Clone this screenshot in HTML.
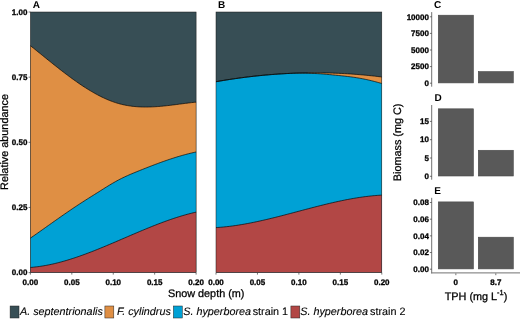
<!DOCTYPE html>
<html><head><meta charset="utf-8"><style>
html,body{margin:0;padding:0;background:#fff;width:520px;height:319px;overflow:hidden}
svg{display:block;will-change:transform;text-rendering:geometricPrecision;font-family:"Liberation Sans",sans-serif}
.tk{font-size:8.0px;font-weight:bold;fill:#000;stroke:#000;stroke-width:0.3px}
.tag{font-size:10px;font-weight:bold;fill:#000}
.ttl{font-size:10.85px;fill:#000;stroke:#000;stroke-width:0.28px}
.leg{font-size:10.8px;fill:#000;stroke:#000;stroke-width:0.12px}
</style></head><body>
<svg width="520" height="319" viewBox="0 0 520 319">
<rect x="30.40" y="12.00" width="165.70" height="260.60" fill="#374E55"/>
<polygon points="30.40,45.70 31.89,46.90 33.39,48.09 34.88,49.29 36.37,50.50 37.86,51.70 39.36,52.91 40.85,54.12 42.34,55.33 43.84,56.54 45.33,57.74 46.82,58.95 48.31,60.15 49.81,61.36 51.30,62.55 52.79,63.75 54.28,64.94 55.78,66.12 57.27,67.30 58.76,68.47 60.26,69.64 61.75,70.80 63.24,71.95 64.73,73.09 66.23,74.22 67.72,75.34 69.21,76.46 70.71,77.56 72.20,78.65 73.69,79.73 75.18,80.79 76.68,81.84 78.17,82.88 79.66,83.91 81.15,84.91 82.65,85.91 84.14,86.88 85.63,87.84 87.13,88.79 88.62,89.71 90.11,90.62 91.60,91.50 93.10,92.37 94.59,93.22 96.08,94.04 97.58,94.85 99.07,95.63 100.56,96.39 102.05,97.13 103.55,97.84 105.04,98.53 106.53,99.19 108.03,99.83 109.52,100.44 111.01,101.02 112.50,101.58 114.00,102.11 115.49,102.61 116.98,103.08 118.47,103.52 119.97,103.93 121.46,104.31 122.95,104.66 124.45,104.99 125.94,105.29 127.43,105.56 128.92,105.81 130.42,106.03 131.91,106.23 133.40,106.40 134.90,106.55 136.39,106.68 137.88,106.79 139.37,106.88 140.87,106.95 142.36,107.00 143.85,107.03 145.35,107.04 146.84,107.04 148.33,107.01 149.82,106.98 151.32,106.93 152.81,106.86 154.30,106.79 155.79,106.70 157.29,106.59 158.78,106.48 160.27,106.36 161.77,106.22 163.26,106.08 164.75,105.93 166.24,105.77 167.74,105.60 169.23,105.43 170.72,105.26 172.22,105.07 173.71,104.89 175.20,104.70 176.69,104.51 178.19,104.32 179.68,104.12 181.17,103.93 182.66,103.73 184.16,103.54 185.65,103.35 187.14,103.16 188.64,102.98 190.13,102.80 191.62,102.62 193.11,102.45 194.61,102.29 196.10,102.13 196.10,272.60 30.40,272.60" fill="#DF8F44"/>
<polygon points="30.40,238.14 31.89,237.10 33.39,236.06 34.88,235.02 36.37,233.97 37.86,232.92 39.36,231.87 40.85,230.82 42.34,229.76 43.84,228.71 45.33,227.65 46.82,226.59 48.31,225.53 49.81,224.48 51.30,223.42 52.79,222.36 54.28,221.31 55.78,220.25 57.27,219.20 58.76,218.15 60.26,217.11 61.75,216.06 63.24,215.02 64.73,213.99 66.23,212.96 67.72,211.93 69.21,210.91 70.71,209.89 72.20,208.88 73.69,207.87 75.18,206.88 76.68,205.88 78.17,204.90 79.66,203.92 81.15,202.95 82.65,201.99 84.14,201.04 85.63,200.08 87.13,199.14 88.62,198.19 90.11,197.25 91.60,196.32 93.10,195.38 94.59,194.44 96.08,193.50 97.58,192.57 99.07,191.63 100.56,190.68 102.05,189.74 103.55,188.80 105.04,187.87 106.53,186.94 108.03,186.02 109.52,185.11 111.01,184.22 112.50,183.34 114.00,182.47 115.49,181.62 116.98,180.80 118.47,179.99 119.97,179.21 121.46,178.46 122.95,177.73 124.45,177.02 125.94,176.32 127.43,175.65 128.92,174.99 130.42,174.35 131.91,173.71 133.40,173.09 134.90,172.47 136.39,171.86 137.88,171.26 139.37,170.65 140.87,170.05 142.36,169.46 143.85,168.86 145.35,168.27 146.84,167.68 148.33,167.10 149.82,166.51 151.32,165.94 152.81,165.37 154.30,164.80 155.79,164.24 157.29,163.68 158.78,163.13 160.27,162.58 161.77,162.04 163.26,161.51 164.75,160.99 166.24,160.47 167.74,159.96 169.23,159.45 170.72,158.96 172.22,158.47 173.71,157.99 175.20,157.52 176.69,157.06 178.19,156.60 179.68,156.16 181.17,155.73 182.66,155.30 184.16,154.89 185.65,154.49 187.14,154.09 188.64,153.71 190.13,153.34 191.62,152.99 193.11,152.64 194.61,152.30 196.10,151.98 196.10,272.60 30.40,272.60" fill="#00A1D5"/>
<polygon points="30.40,267.45 31.89,267.33 33.39,267.19 34.88,267.03 36.37,266.86 37.86,266.68 39.36,266.47 40.85,266.26 42.34,266.02 43.84,265.78 45.33,265.51 46.82,265.24 48.31,264.95 49.81,264.65 51.30,264.33 52.79,264.00 54.28,263.66 55.78,263.30 57.27,262.93 58.76,262.55 60.26,262.16 61.75,261.76 63.24,261.35 64.73,260.92 66.23,260.49 67.72,260.04 69.21,259.58 70.71,259.12 72.20,258.64 73.69,258.16 75.18,257.66 76.68,257.16 78.17,256.65 79.66,256.13 81.15,255.60 82.65,255.07 84.14,254.52 85.63,253.97 87.13,253.42 88.62,252.85 90.11,252.28 91.60,251.71 93.10,251.13 94.59,250.54 96.08,249.95 97.58,249.35 99.07,248.75 100.56,248.14 102.05,247.53 103.55,246.91 105.04,246.29 106.53,245.67 108.03,245.04 109.52,244.41 111.01,243.78 112.50,243.15 114.00,242.51 115.49,241.88 116.98,241.24 118.47,240.60 119.97,239.95 121.46,239.31 122.95,238.67 124.45,238.03 125.94,237.38 127.43,236.74 128.92,236.10 130.42,235.46 131.91,234.82 133.40,234.18 134.90,233.54 136.39,232.90 137.88,232.27 139.37,231.64 140.87,231.01 142.36,230.39 143.85,229.77 145.35,229.15 146.84,228.53 148.33,227.92 149.82,227.32 151.32,226.71 152.81,226.12 154.30,225.52 155.79,224.94 157.29,224.36 158.78,223.78 160.27,223.21 161.77,222.65 163.26,222.10 164.75,221.55 166.24,221.01 167.74,220.47 169.23,219.95 170.72,219.43 172.22,218.92 173.71,218.42 175.20,217.93 176.69,217.44 178.19,216.97 179.68,216.51 181.17,216.05 182.66,215.61 184.16,215.18 185.65,214.75 187.14,214.34 188.64,213.94 190.13,213.55 191.62,213.18 193.11,212.81 194.61,212.46 196.10,212.12 196.10,272.60 30.40,272.60" fill="#B24745"/>
<polyline points="30.40,45.70 31.89,46.90 33.39,48.09 34.88,49.29 36.37,50.50 37.86,51.70 39.36,52.91 40.85,54.12 42.34,55.33 43.84,56.54 45.33,57.74 46.82,58.95 48.31,60.15 49.81,61.36 51.30,62.55 52.79,63.75 54.28,64.94 55.78,66.12 57.27,67.30 58.76,68.47 60.26,69.64 61.75,70.80 63.24,71.95 64.73,73.09 66.23,74.22 67.72,75.34 69.21,76.46 70.71,77.56 72.20,78.65 73.69,79.73 75.18,80.79 76.68,81.84 78.17,82.88 79.66,83.91 81.15,84.91 82.65,85.91 84.14,86.88 85.63,87.84 87.13,88.79 88.62,89.71 90.11,90.62 91.60,91.50 93.10,92.37 94.59,93.22 96.08,94.04 97.58,94.85 99.07,95.63 100.56,96.39 102.05,97.13 103.55,97.84 105.04,98.53 106.53,99.19 108.03,99.83 109.52,100.44 111.01,101.02 112.50,101.58 114.00,102.11 115.49,102.61 116.98,103.08 118.47,103.52 119.97,103.93 121.46,104.31 122.95,104.66 124.45,104.99 125.94,105.29 127.43,105.56 128.92,105.81 130.42,106.03 131.91,106.23 133.40,106.40 134.90,106.55 136.39,106.68 137.88,106.79 139.37,106.88 140.87,106.95 142.36,107.00 143.85,107.03 145.35,107.04 146.84,107.04 148.33,107.01 149.82,106.98 151.32,106.93 152.81,106.86 154.30,106.79 155.79,106.70 157.29,106.59 158.78,106.48 160.27,106.36 161.77,106.22 163.26,106.08 164.75,105.93 166.24,105.77 167.74,105.60 169.23,105.43 170.72,105.26 172.22,105.07 173.71,104.89 175.20,104.70 176.69,104.51 178.19,104.32 179.68,104.12 181.17,103.93 182.66,103.73 184.16,103.54 185.65,103.35 187.14,103.16 188.64,102.98 190.13,102.80 191.62,102.62 193.11,102.45 194.61,102.29 196.10,102.13" fill="none" stroke="#000" stroke-width="0.65" stroke-linejoin="round"/>
<polyline points="30.40,238.14 31.89,237.10 33.39,236.06 34.88,235.02 36.37,233.97 37.86,232.92 39.36,231.87 40.85,230.82 42.34,229.76 43.84,228.71 45.33,227.65 46.82,226.59 48.31,225.53 49.81,224.48 51.30,223.42 52.79,222.36 54.28,221.31 55.78,220.25 57.27,219.20 58.76,218.15 60.26,217.11 61.75,216.06 63.24,215.02 64.73,213.99 66.23,212.96 67.72,211.93 69.21,210.91 70.71,209.89 72.20,208.88 73.69,207.87 75.18,206.88 76.68,205.88 78.17,204.90 79.66,203.92 81.15,202.95 82.65,201.99 84.14,201.04 85.63,200.08 87.13,199.14 88.62,198.19 90.11,197.25 91.60,196.32 93.10,195.38 94.59,194.44 96.08,193.50 97.58,192.57 99.07,191.63 100.56,190.68 102.05,189.74 103.55,188.80 105.04,187.87 106.53,186.94 108.03,186.02 109.52,185.11 111.01,184.22 112.50,183.34 114.00,182.47 115.49,181.62 116.98,180.80 118.47,179.99 119.97,179.21 121.46,178.46 122.95,177.73 124.45,177.02 125.94,176.32 127.43,175.65 128.92,174.99 130.42,174.35 131.91,173.71 133.40,173.09 134.90,172.47 136.39,171.86 137.88,171.26 139.37,170.65 140.87,170.05 142.36,169.46 143.85,168.86 145.35,168.27 146.84,167.68 148.33,167.10 149.82,166.51 151.32,165.94 152.81,165.37 154.30,164.80 155.79,164.24 157.29,163.68 158.78,163.13 160.27,162.58 161.77,162.04 163.26,161.51 164.75,160.99 166.24,160.47 167.74,159.96 169.23,159.45 170.72,158.96 172.22,158.47 173.71,157.99 175.20,157.52 176.69,157.06 178.19,156.60 179.68,156.16 181.17,155.73 182.66,155.30 184.16,154.89 185.65,154.49 187.14,154.09 188.64,153.71 190.13,153.34 191.62,152.99 193.11,152.64 194.61,152.30 196.10,151.98" fill="none" stroke="#000" stroke-width="0.65" stroke-linejoin="round"/>
<polyline points="30.40,267.45 31.89,267.33 33.39,267.19 34.88,267.03 36.37,266.86 37.86,266.68 39.36,266.47 40.85,266.26 42.34,266.02 43.84,265.78 45.33,265.51 46.82,265.24 48.31,264.95 49.81,264.65 51.30,264.33 52.79,264.00 54.28,263.66 55.78,263.30 57.27,262.93 58.76,262.55 60.26,262.16 61.75,261.76 63.24,261.35 64.73,260.92 66.23,260.49 67.72,260.04 69.21,259.58 70.71,259.12 72.20,258.64 73.69,258.16 75.18,257.66 76.68,257.16 78.17,256.65 79.66,256.13 81.15,255.60 82.65,255.07 84.14,254.52 85.63,253.97 87.13,253.42 88.62,252.85 90.11,252.28 91.60,251.71 93.10,251.13 94.59,250.54 96.08,249.95 97.58,249.35 99.07,248.75 100.56,248.14 102.05,247.53 103.55,246.91 105.04,246.29 106.53,245.67 108.03,245.04 109.52,244.41 111.01,243.78 112.50,243.15 114.00,242.51 115.49,241.88 116.98,241.24 118.47,240.60 119.97,239.95 121.46,239.31 122.95,238.67 124.45,238.03 125.94,237.38 127.43,236.74 128.92,236.10 130.42,235.46 131.91,234.82 133.40,234.18 134.90,233.54 136.39,232.90 137.88,232.27 139.37,231.64 140.87,231.01 142.36,230.39 143.85,229.77 145.35,229.15 146.84,228.53 148.33,227.92 149.82,227.32 151.32,226.71 152.81,226.12 154.30,225.52 155.79,224.94 157.29,224.36 158.78,223.78 160.27,223.21 161.77,222.65 163.26,222.10 164.75,221.55 166.24,221.01 167.74,220.47 169.23,219.95 170.72,219.43 172.22,218.92 173.71,218.42 175.20,217.93 176.69,217.44 178.19,216.97 179.68,216.51 181.17,216.05 182.66,215.61 184.16,215.18 185.65,214.75 187.14,214.34 188.64,213.94 190.13,213.55 191.62,213.18 193.11,212.81 194.61,212.46 196.10,212.12" fill="none" stroke="#000" stroke-width="0.65" stroke-linejoin="round"/>
<rect x="30.40" y="12.00" width="165.70" height="260.60" fill="none" stroke="#1a1a1a" stroke-width="0.5"/>
<rect x="216.00" y="12.00" width="165.80" height="260.60" fill="#374E55"/>
<polygon points="216.00,81.73 217.49,81.46 218.99,81.20 220.48,80.95 221.97,80.70 223.47,80.45 224.96,80.20 226.46,79.96 227.95,79.73 229.44,79.49 230.94,79.26 232.43,79.04 233.92,78.82 235.42,78.60 236.91,78.39 238.41,78.18 239.90,77.97 241.39,77.77 242.89,77.58 244.38,77.38 245.87,77.19 247.37,77.01 248.86,76.83 250.35,76.65 251.85,76.48 253.34,76.31 254.84,76.14 256.33,75.98 257.82,75.82 259.32,75.67 260.81,75.52 262.30,75.37 263.80,75.23 265.29,75.09 266.79,74.96 268.28,74.83 269.77,74.70 271.27,74.58 272.76,74.46 274.25,74.35 275.75,74.24 277.24,74.13 278.74,74.03 280.23,73.94 281.72,73.84 283.22,73.75 284.71,73.67 286.20,73.59 287.70,73.51 289.19,73.44 290.68,73.37 292.18,73.30 293.67,73.24 295.17,73.18 296.66,73.13 298.15,73.08 299.65,73.04 301.14,73.00 302.63,72.96 304.13,72.93 305.62,72.90 307.12,72.88 308.61,72.86 310.10,72.84 311.60,72.83 313.09,72.82 314.58,72.82 316.08,72.82 317.57,72.82 319.06,72.83 320.56,72.84 322.05,72.86 323.55,72.88 325.04,72.91 326.53,72.94 328.03,72.97 329.52,73.01 331.01,73.05 332.51,73.10 334.00,73.15 335.50,73.20 336.99,73.26 338.48,73.33 339.98,73.39 341.47,73.46 342.96,73.54 344.46,73.62 345.95,73.70 347.45,73.79 348.94,73.88 350.43,73.98 351.93,74.08 353.42,74.19 354.91,74.30 356.41,74.41 357.90,74.53 359.39,74.65 360.89,74.78 362.38,74.91 363.88,75.04 365.37,75.18 366.86,75.33 368.36,75.47 369.85,75.63 371.34,75.78 372.84,75.94 374.33,76.11 375.83,76.28 377.32,76.45 378.81,76.63 380.31,76.81 381.80,77.00 381.80,272.60 216.00,272.60" fill="#DF8F44"/>
<polygon points="216.00,81.73 217.49,81.46 218.99,81.20 220.48,80.95 221.97,80.70 223.47,80.45 224.96,80.20 226.46,79.96 227.95,79.73 229.44,79.49 230.94,79.26 232.43,79.04 233.92,78.82 235.42,78.60 236.91,78.39 238.41,78.18 239.90,77.97 241.39,77.77 242.89,77.58 244.38,77.38 245.87,77.19 247.37,77.01 248.86,76.83 250.35,76.65 251.85,76.48 253.34,76.31 254.84,76.14 256.33,75.98 257.82,75.82 259.32,75.67 260.81,75.52 262.30,75.37 263.80,75.23 265.29,75.09 266.79,74.96 268.28,74.83 269.77,74.70 271.27,74.58 272.76,74.46 274.25,74.35 275.75,74.24 277.24,74.13 278.74,74.03 280.23,73.94 281.72,73.84 283.22,73.75 284.71,73.67 286.20,73.59 287.70,73.51 289.19,73.44 290.68,73.37 292.18,73.30 293.67,73.24 295.17,73.18 296.66,73.15 298.15,73.14 299.65,73.13 301.14,73.14 302.63,73.15 304.13,73.17 305.62,73.20 307.12,73.23 308.61,73.28 310.10,73.32 311.60,73.38 313.09,73.44 314.58,73.50 316.08,73.57 317.57,73.65 319.06,73.74 320.56,73.84 322.05,73.95 323.55,74.07 325.04,74.19 326.53,74.33 328.03,74.47 329.52,74.61 331.01,74.75 332.51,74.90 334.00,75.05 335.50,75.20 336.99,75.34 338.48,75.49 339.98,75.65 341.47,75.80 342.96,75.96 344.46,76.12 345.95,76.29 347.45,76.46 348.94,76.64 350.43,76.83 351.93,77.03 353.42,77.24 354.91,77.45 356.41,77.68 357.90,77.92 359.39,78.17 360.89,78.44 362.38,78.72 363.88,79.02 365.37,79.33 366.86,79.65 368.36,79.99 369.85,80.33 371.34,80.69 372.84,81.06 374.33,81.44 375.83,81.83 377.32,82.24 378.81,82.65 380.31,83.07 381.80,83.50 381.80,272.60 216.00,272.60" fill="#00A1D5"/>
<polygon points="216.00,227.59 217.49,227.50 218.99,227.39 220.48,227.27 221.97,227.15 223.47,227.01 224.96,226.86 226.46,226.70 227.95,226.53 229.44,226.36 230.94,226.17 232.43,225.97 233.92,225.77 235.42,225.55 236.91,225.33 238.41,225.10 239.90,224.86 241.39,224.62 242.89,224.36 244.38,224.10 245.87,223.83 247.37,223.56 248.86,223.27 250.35,222.98 251.85,222.69 253.34,222.39 254.84,222.08 256.33,221.76 257.82,221.44 259.32,221.12 260.81,220.79 262.30,220.45 263.80,220.11 265.29,219.77 266.79,219.42 268.28,219.06 269.77,218.70 271.27,218.34 272.76,217.98 274.25,217.61 275.75,217.24 277.24,216.86 278.74,216.48 280.23,216.10 281.72,215.72 283.22,215.33 284.71,214.95 286.20,214.56 287.70,214.17 289.19,213.77 290.68,213.38 292.18,212.99 293.67,212.59 295.17,212.19 296.66,211.80 298.15,211.40 299.65,211.01 301.14,210.61 302.63,210.21 304.13,209.82 305.62,209.42 307.12,209.03 308.61,208.64 310.10,208.25 311.60,207.86 313.09,207.47 314.58,207.08 316.08,206.70 317.57,206.32 319.06,205.94 320.56,205.57 322.05,205.19 323.55,204.82 325.04,204.46 326.53,204.10 328.03,203.74 329.52,203.38 331.01,203.03 332.51,202.69 334.00,202.35 335.50,202.01 336.99,201.68 338.48,201.36 339.98,201.04 341.47,200.72 342.96,200.41 344.46,200.11 345.95,199.81 347.45,199.52 348.94,199.24 350.43,198.96 351.93,198.69 353.42,198.43 354.91,198.18 356.41,197.93 357.90,197.69 359.39,197.46 360.89,197.24 362.38,197.02 363.88,196.82 365.37,196.62 366.86,196.44 368.36,196.26 369.85,196.09 371.34,195.93 372.84,195.78 374.33,195.64 375.83,195.51 377.32,195.40 378.81,195.29 380.31,195.19 381.80,195.11 381.80,272.60 216.00,272.60" fill="#B24745"/>
<polyline points="216.00,81.73 217.49,81.46 218.99,81.20 220.48,80.95 221.97,80.70 223.47,80.45 224.96,80.20 226.46,79.96 227.95,79.73 229.44,79.49 230.94,79.26 232.43,79.04 233.92,78.82 235.42,78.60 236.91,78.39 238.41,78.18 239.90,77.97 241.39,77.77 242.89,77.58 244.38,77.38 245.87,77.19 247.37,77.01 248.86,76.83 250.35,76.65 251.85,76.48 253.34,76.31 254.84,76.14 256.33,75.98 257.82,75.82 259.32,75.67 260.81,75.52 262.30,75.37 263.80,75.23 265.29,75.09 266.79,74.96 268.28,74.83 269.77,74.70 271.27,74.58 272.76,74.46 274.25,74.35 275.75,74.24 277.24,74.13 278.74,74.03 280.23,73.94 281.72,73.84 283.22,73.75 284.71,73.67 286.20,73.59 287.70,73.51 289.19,73.44 290.68,73.37 292.18,73.30 293.67,73.24 295.17,73.18 296.66,73.13 298.15,73.08 299.65,73.04 301.14,73.00 302.63,72.96 304.13,72.93 305.62,72.90 307.12,72.88 308.61,72.86 310.10,72.84 311.60,72.83 313.09,72.82 314.58,72.82 316.08,72.82 317.57,72.82 319.06,72.83 320.56,72.84 322.05,72.86 323.55,72.88 325.04,72.91 326.53,72.94 328.03,72.97 329.52,73.01 331.01,73.05 332.51,73.10 334.00,73.15 335.50,73.20 336.99,73.26 338.48,73.33 339.98,73.39 341.47,73.46 342.96,73.54 344.46,73.62 345.95,73.70 347.45,73.79 348.94,73.88 350.43,73.98 351.93,74.08 353.42,74.19 354.91,74.30 356.41,74.41 357.90,74.53 359.39,74.65 360.89,74.78 362.38,74.91 363.88,75.04 365.37,75.18 366.86,75.33 368.36,75.47 369.85,75.63 371.34,75.78 372.84,75.94 374.33,76.11 375.83,76.28 377.32,76.45 378.81,76.63 380.31,76.81 381.80,77.00" fill="none" stroke="#000" stroke-width="0.65" stroke-linejoin="round"/>
<polyline points="216.00,81.73 217.49,81.46 218.99,81.20 220.48,80.95 221.97,80.70 223.47,80.45 224.96,80.20 226.46,79.96 227.95,79.73 229.44,79.49 230.94,79.26 232.43,79.04 233.92,78.82 235.42,78.60 236.91,78.39 238.41,78.18 239.90,77.97 241.39,77.77 242.89,77.58 244.38,77.38 245.87,77.19 247.37,77.01 248.86,76.83 250.35,76.65 251.85,76.48 253.34,76.31 254.84,76.14 256.33,75.98 257.82,75.82 259.32,75.67 260.81,75.52 262.30,75.37 263.80,75.23 265.29,75.09 266.79,74.96 268.28,74.83 269.77,74.70 271.27,74.58 272.76,74.46 274.25,74.35 275.75,74.24 277.24,74.13 278.74,74.03 280.23,73.94 281.72,73.84 283.22,73.75 284.71,73.67 286.20,73.59 287.70,73.51 289.19,73.44 290.68,73.37 292.18,73.30 293.67,73.24 295.17,73.18 296.66,73.15 298.15,73.14 299.65,73.13 301.14,73.14 302.63,73.15 304.13,73.17 305.62,73.20 307.12,73.23 308.61,73.28 310.10,73.32 311.60,73.38 313.09,73.44 314.58,73.50 316.08,73.57 317.57,73.65 319.06,73.74 320.56,73.84 322.05,73.95 323.55,74.07 325.04,74.19 326.53,74.33 328.03,74.47 329.52,74.61 331.01,74.75 332.51,74.90 334.00,75.05 335.50,75.20 336.99,75.34 338.48,75.49 339.98,75.65 341.47,75.80 342.96,75.96 344.46,76.12 345.95,76.29 347.45,76.46 348.94,76.64 350.43,76.83 351.93,77.03 353.42,77.24 354.91,77.45 356.41,77.68 357.90,77.92 359.39,78.17 360.89,78.44 362.38,78.72 363.88,79.02 365.37,79.33 366.86,79.65 368.36,79.99 369.85,80.33 371.34,80.69 372.84,81.06 374.33,81.44 375.83,81.83 377.32,82.24 378.81,82.65 380.31,83.07 381.80,83.50" fill="none" stroke="#000" stroke-width="0.65" stroke-linejoin="round"/>
<polyline points="216.00,227.59 217.49,227.50 218.99,227.39 220.48,227.27 221.97,227.15 223.47,227.01 224.96,226.86 226.46,226.70 227.95,226.53 229.44,226.36 230.94,226.17 232.43,225.97 233.92,225.77 235.42,225.55 236.91,225.33 238.41,225.10 239.90,224.86 241.39,224.62 242.89,224.36 244.38,224.10 245.87,223.83 247.37,223.56 248.86,223.27 250.35,222.98 251.85,222.69 253.34,222.39 254.84,222.08 256.33,221.76 257.82,221.44 259.32,221.12 260.81,220.79 262.30,220.45 263.80,220.11 265.29,219.77 266.79,219.42 268.28,219.06 269.77,218.70 271.27,218.34 272.76,217.98 274.25,217.61 275.75,217.24 277.24,216.86 278.74,216.48 280.23,216.10 281.72,215.72 283.22,215.33 284.71,214.95 286.20,214.56 287.70,214.17 289.19,213.77 290.68,213.38 292.18,212.99 293.67,212.59 295.17,212.19 296.66,211.80 298.15,211.40 299.65,211.01 301.14,210.61 302.63,210.21 304.13,209.82 305.62,209.42 307.12,209.03 308.61,208.64 310.10,208.25 311.60,207.86 313.09,207.47 314.58,207.08 316.08,206.70 317.57,206.32 319.06,205.94 320.56,205.57 322.05,205.19 323.55,204.82 325.04,204.46 326.53,204.10 328.03,203.74 329.52,203.38 331.01,203.03 332.51,202.69 334.00,202.35 335.50,202.01 336.99,201.68 338.48,201.36 339.98,201.04 341.47,200.72 342.96,200.41 344.46,200.11 345.95,199.81 347.45,199.52 348.94,199.24 350.43,198.96 351.93,198.69 353.42,198.43 354.91,198.18 356.41,197.93 357.90,197.69 359.39,197.46 360.89,197.24 362.38,197.02 363.88,196.82 365.37,196.62 366.86,196.44 368.36,196.26 369.85,196.09 371.34,195.93 372.84,195.78 374.33,195.64 375.83,195.51 377.32,195.40 378.81,195.29 380.31,195.19 381.80,195.11" fill="none" stroke="#000" stroke-width="0.65" stroke-linejoin="round"/>
<rect x="216.00" y="12.00" width="165.80" height="260.60" fill="none" stroke="#1a1a1a" stroke-width="0.5"/>
<line x1="28.6" y1="12.00" x2="30.4" y2="12.00" stroke="#3a3a3a" stroke-width="0.7"/>
<text x="27.4" y="14.75" text-anchor="end" class="tk">1.00</text>
<line x1="28.6" y1="77.15" x2="30.4" y2="77.15" stroke="#3a3a3a" stroke-width="0.7"/>
<text x="27.4" y="79.90" text-anchor="end" class="tk">0.75</text>
<line x1="28.6" y1="142.30" x2="30.4" y2="142.30" stroke="#3a3a3a" stroke-width="0.7"/>
<text x="27.4" y="145.05" text-anchor="end" class="tk">0.50</text>
<line x1="28.6" y1="207.45" x2="30.4" y2="207.45" stroke="#3a3a3a" stroke-width="0.7"/>
<text x="27.4" y="210.20" text-anchor="end" class="tk">0.25</text>
<line x1="28.6" y1="272.60" x2="30.4" y2="272.60" stroke="#3a3a3a" stroke-width="0.7"/>
<text x="27.4" y="275.35" text-anchor="end" class="tk">0.00</text>
<line x1="30.40" y1="272.6" x2="30.40" y2="274.6" stroke="#3a3a3a" stroke-width="0.7"/>
<text x="30.40" y="284.9" text-anchor="middle" class="tk">0.00</text>
<line x1="71.82" y1="272.6" x2="71.82" y2="274.6" stroke="#3a3a3a" stroke-width="0.7"/>
<text x="71.82" y="284.9" text-anchor="middle" class="tk">0.05</text>
<line x1="113.25" y1="272.6" x2="113.25" y2="274.6" stroke="#3a3a3a" stroke-width="0.7"/>
<text x="113.25" y="284.9" text-anchor="middle" class="tk">0.10</text>
<line x1="154.67" y1="272.6" x2="154.67" y2="274.6" stroke="#3a3a3a" stroke-width="0.7"/>
<text x="154.67" y="284.9" text-anchor="middle" class="tk">0.15</text>
<line x1="196.10" y1="272.6" x2="196.10" y2="274.6" stroke="#3a3a3a" stroke-width="0.7"/>
<text x="196.10" y="284.9" text-anchor="middle" class="tk">0.20</text>
<line x1="216.00" y1="272.6" x2="216.00" y2="274.6" stroke="#3a3a3a" stroke-width="0.7"/>
<text x="216.00" y="284.9" text-anchor="middle" class="tk">0.00</text>
<line x1="257.45" y1="272.6" x2="257.45" y2="274.6" stroke="#3a3a3a" stroke-width="0.7"/>
<text x="257.45" y="284.9" text-anchor="middle" class="tk">0.05</text>
<line x1="298.90" y1="272.6" x2="298.90" y2="274.6" stroke="#3a3a3a" stroke-width="0.7"/>
<text x="298.90" y="284.9" text-anchor="middle" class="tk">0.10</text>
<line x1="340.35" y1="272.6" x2="340.35" y2="274.6" stroke="#3a3a3a" stroke-width="0.7"/>
<text x="340.35" y="284.9" text-anchor="middle" class="tk">0.15</text>
<line x1="381.80" y1="272.6" x2="381.80" y2="274.6" stroke="#3a3a3a" stroke-width="0.7"/>
<text x="381.80" y="284.9" text-anchor="middle" class="tk">0.20</text>
<line x1="431.70" y1="12.10" x2="431.70" y2="86.70" stroke="#727272" stroke-width="1"/>
<line x1="429.9" y1="16.80" x2="431.70" y2="16.80" stroke="#3a3a3a" stroke-width="0.7"/>
<text x="428.9" y="19.55" text-anchor="end" class="tk">10000</text>
<line x1="429.9" y1="33.40" x2="431.70" y2="33.40" stroke="#3a3a3a" stroke-width="0.7"/>
<text x="428.9" y="36.15" text-anchor="end" class="tk">7500</text>
<line x1="429.9" y1="50.00" x2="431.70" y2="50.00" stroke="#3a3a3a" stroke-width="0.7"/>
<text x="428.9" y="52.75" text-anchor="end" class="tk">5000</text>
<line x1="429.9" y1="66.60" x2="431.70" y2="66.60" stroke="#3a3a3a" stroke-width="0.7"/>
<text x="428.9" y="69.35" text-anchor="end" class="tk">2500</text>
<line x1="429.9" y1="83.20" x2="431.70" y2="83.20" stroke="#3a3a3a" stroke-width="0.7"/>
<text x="428.9" y="85.95" text-anchor="end" class="tk">0</text>
<rect x="438.30" y="15.20" width="35.10" height="67.70" fill="#595959" stroke="#474747" stroke-width="0.6"/>
<rect x="478.30" y="71.60" width="35.00" height="11.30" fill="#595959" stroke="#474747" stroke-width="0.6"/>
<line x1="431.70" y1="105.00" x2="431.70" y2="179.70" stroke="#727272" stroke-width="1"/>
<line x1="429.9" y1="121.40" x2="431.70" y2="121.40" stroke="#3a3a3a" stroke-width="0.7"/>
<text x="428.9" y="124.15" text-anchor="end" class="tk">15</text>
<line x1="429.9" y1="139.70" x2="431.70" y2="139.70" stroke="#3a3a3a" stroke-width="0.7"/>
<text x="428.9" y="142.45" text-anchor="end" class="tk">10</text>
<line x1="429.9" y1="158.00" x2="431.70" y2="158.00" stroke="#3a3a3a" stroke-width="0.7"/>
<text x="428.9" y="160.75" text-anchor="end" class="tk">5</text>
<line x1="429.9" y1="176.30" x2="431.70" y2="176.30" stroke="#3a3a3a" stroke-width="0.7"/>
<text x="428.9" y="179.05" text-anchor="end" class="tk">0</text>
<rect x="438.30" y="108.82" width="35.10" height="67.18" fill="#595959" stroke="#474747" stroke-width="0.6"/>
<rect x="478.30" y="150.28" width="35.00" height="25.72" fill="#595959" stroke="#474747" stroke-width="0.6"/>
<line x1="431.70" y1="197.80" x2="431.70" y2="273.40" stroke="#727272" stroke-width="1"/>
<line x1="429.9" y1="202.50" x2="431.70" y2="202.50" stroke="#3a3a3a" stroke-width="0.7"/>
<text x="428.9" y="205.25" text-anchor="end" class="tk">0.08</text>
<line x1="429.9" y1="219.18" x2="431.70" y2="219.18" stroke="#3a3a3a" stroke-width="0.7"/>
<text x="428.9" y="221.93" text-anchor="end" class="tk">0.06</text>
<line x1="429.9" y1="235.85" x2="431.70" y2="235.85" stroke="#3a3a3a" stroke-width="0.7"/>
<text x="428.9" y="238.60" text-anchor="end" class="tk">0.04</text>
<line x1="429.9" y1="252.52" x2="431.70" y2="252.52" stroke="#3a3a3a" stroke-width="0.7"/>
<text x="428.9" y="255.27" text-anchor="end" class="tk">0.02</text>
<line x1="429.9" y1="269.20" x2="431.70" y2="269.20" stroke="#3a3a3a" stroke-width="0.7"/>
<text x="428.9" y="271.95" text-anchor="end" class="tk">0.00</text>
<rect x="438.30" y="201.90" width="35.10" height="67.00" fill="#595959" stroke="#474747" stroke-width="0.6"/>
<rect x="478.30" y="237.20" width="35.00" height="31.70" fill="#595959" stroke="#474747" stroke-width="0.6"/>
<line x1="431.20" y1="272.9" x2="520" y2="272.9" stroke="#727272" stroke-width="1"/>
<line x1="455.85" y1="273.4" x2="455.85" y2="275.2" stroke="#3a3a3a" stroke-width="0.7"/>
<text x="455.85" y="284.9" text-anchor="middle" class="tk">0</text>
<line x1="495.80" y1="273.4" x2="495.80" y2="275.2" stroke="#3a3a3a" stroke-width="0.7"/>
<text x="495.80" y="284.9" text-anchor="middle" class="tk">8.7</text>
<text x="32.80" y="8.20" class="tag">A</text>
<text x="218.10" y="8.20" class="tag">B</text>
<text x="434.10" y="8.40" class="tag">C</text>
<text x="434.50" y="101.30" class="tag">D</text>
<text x="434.30" y="194.30" class="tag">E</text>
<text x="206.2" y="296.7" text-anchor="middle" class="ttl">Snow depth (m)</text>
<text x="476" y="299.6" text-anchor="middle" class="ttl">TPH (mg L<tspan dy="-4.8" font-size="7.4">-1</tspan><tspan dy="4.8">)</tspan></text>
<text transform="translate(7.8,142.0) rotate(-90)" text-anchor="middle" class="ttl">Relative abundance</text>
<text transform="translate(400.8,142.4) rotate(-90)" text-anchor="middle" class="ttl">Biomass (mg C)</text>
<rect x="10.10" y="306.00" width="8.9" height="12.00" fill="#374E55" stroke="#222" stroke-width="0.5"/>
<text x="20.00" y="314.6" class="leg"><tspan font-style="italic">A. septentrionalis</tspan></text>
<rect x="104.90" y="306.00" width="8.9" height="12.00" fill="#DF8F44" stroke="#222" stroke-width="0.5"/>
<text x="117.00" y="314.6" class="leg"><tspan font-style="italic">F. cylindrus</tspan></text>
<rect x="173.40" y="306.00" width="8.9" height="12.00" fill="#00A1D5" stroke="#222" stroke-width="0.5"/>
<text x="183.20" y="314.6" class="leg"><tspan font-style="italic">S. hyperborea</tspan><tspan dx="-1.3"> strain 1</tspan></text>
<rect x="290.90" y="306.00" width="8.9" height="12.00" fill="#B24745" stroke="#222" stroke-width="0.5"/>
<text x="300.20" y="314.6" class="leg"><tspan font-style="italic">S. hyperborea</tspan><tspan dx="-1.0"> strain 2</tspan></text>
</svg>
</body></html>
